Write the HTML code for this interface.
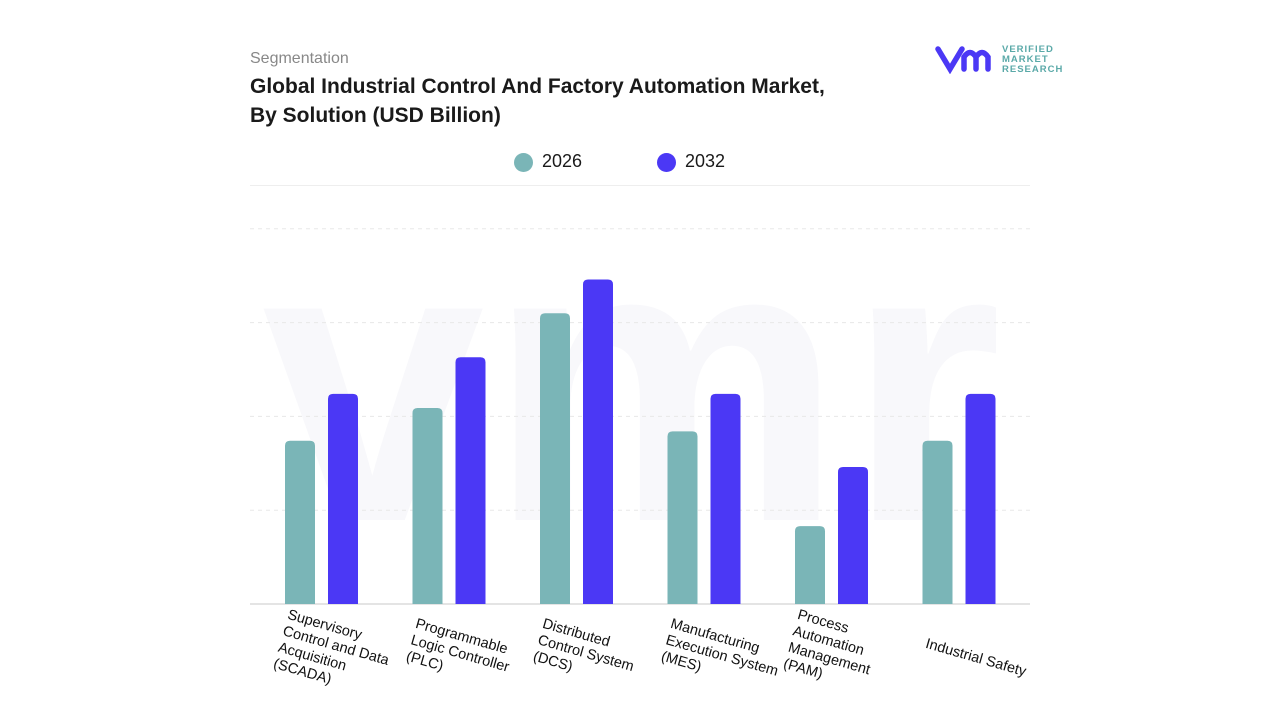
<!DOCTYPE html>
<html><head><meta charset="utf-8">
<style>
body{margin:0;width:1280px;height:720px;background:#fff;font-family:"Liberation Sans",sans-serif;overflow:hidden;position:relative}
.t{position:absolute;color:#1a1a1a}
.xl{position:absolute;font-size:14.5px;line-height:17px;color:#111;transform-origin:0 0;transform:rotate(16deg);white-space:nowrap}
</style></head><body>
<div class="t" style="left:250px;top:50px;font-size:16px;color:#888">Segmentation</div>
<div class="t" style="left:250px;top:72px;font-size:21px;font-weight:bold;line-height:29px">Global Industrial Control And Factory Automation Market,<br>By Solution (USD Billion)</div>
<div style="position:absolute;left:935px;top:44px;width:130px;height:34px">
<svg width="64" height="30" style="position:absolute;left:0;top:0"><path d="M3 5 L15 25 L27 5 M29 25 V13 Q35 4 41 13 V25 M41 13 Q47 4 53 13 V25" stroke="#4b38f5" stroke-width="5.5" fill="none" stroke-linecap="round"/></svg>
<div style="position:absolute;left:67px;top:1px;font-size:9.5px;line-height:10px;color:#5aa9a8;font-weight:bold;letter-spacing:1px">VERIFIED<br>MARKET<br>RESEARCH</div></div>
<div>
<span style="position:absolute;left:514px;top:153px;width:19px;height:19px;border-radius:50%;background:#7ab5b7"></span>
<span class="t" style="left:542px;top:151px;font-size:18px">2026</span>
<span style="position:absolute;left:657px;top:153px;width:19px;height:19px;border-radius:50%;background:#4b38f5"></span>
<span class="t" style="left:685px;top:151px;font-size:18px">2032</span>
</div>
<svg id="chart" width="1280" height="720" style="position:absolute;left:0;top:0">
<line x1="250" x2="1030" y1="185.5" y2="185.5" stroke="#eee"/>
<text x="262" y="520" font-size="400" font-weight="bold" fill="#f8f8fb" font-family="Liberation Sans" textLength="740">vmr</text>
</svg>
<div id="labels"></div>
<script>
const categories=[["Supervisory","Control and Data","Acquisition","(SCADA)"],["Programmable","Logic Controller","(PLC)"],["Distributed","Control System","(DCS)"],["Manufacturing","Execution System","(MES)"],["Process","Automation","Management","(PAM)"],["Industrial Safety"]];
const values2026=[1.74,2.09,3.10,1.84,0.83,1.74];
const values2032=[2.24,2.63,3.46,2.24,1.46,2.24];
const gridTicks=[0,1,2,3,4];
const svg=document.getElementById('chart');const NS='http://www.w3.org/2000/svg';
const y0=604,pxPer=93.8,x0=250,gw=127.5;
const yS=v=>y0-v*pxPer;const xC=i=>x0+gw*i+71;
gridTicks.forEach(t=>{const l=document.createElementNS(NS,'line');


l.setAttribute('x1',250);l.setAttribute('x2',1030);l.setAttribute('y1',yS(t));l.setAttribute('y2',yS(t));
l.setAttribute('stroke',t===0?'#e4e4e4':'#e8e8e8');l.setAttribute('stroke-width',t===0?2:1);if(t)l.setAttribute('stroke-dasharray','4 4');svg.appendChild(l);});
function bar(x,v,c,n){const h=v*pxPer,w=30,r=5,y=yS(v);const p=document.createElementNS(NS,'path');


p.setAttribute('d',`M${x} ${y0} V${y+r} Q${x} ${y} ${x+r} ${y} H${x+w-r} Q${x+w} ${y} ${x+w} ${y+r} V${y0} Z`);p.setAttribute('fill',c);svg.appendChild(p);}
const lab=document.getElementById('labels');
categories.forEach((c,i)=>{bar(xC(i)-36,values2026[i],'#7ab5b7','bar-2026');bar(xC(i)+7,values2032[i],'#4b38f5','bar-2032');
const d=document.createElement('div');d.className='xl';


d.innerHTML=c.join('<br>');d.style.left=(xC(i)-31)+'px';d.style.top=(c.length===1?636:643-9*c.length)+'px';lab.appendChild(d);});
</script>
</body></html>
